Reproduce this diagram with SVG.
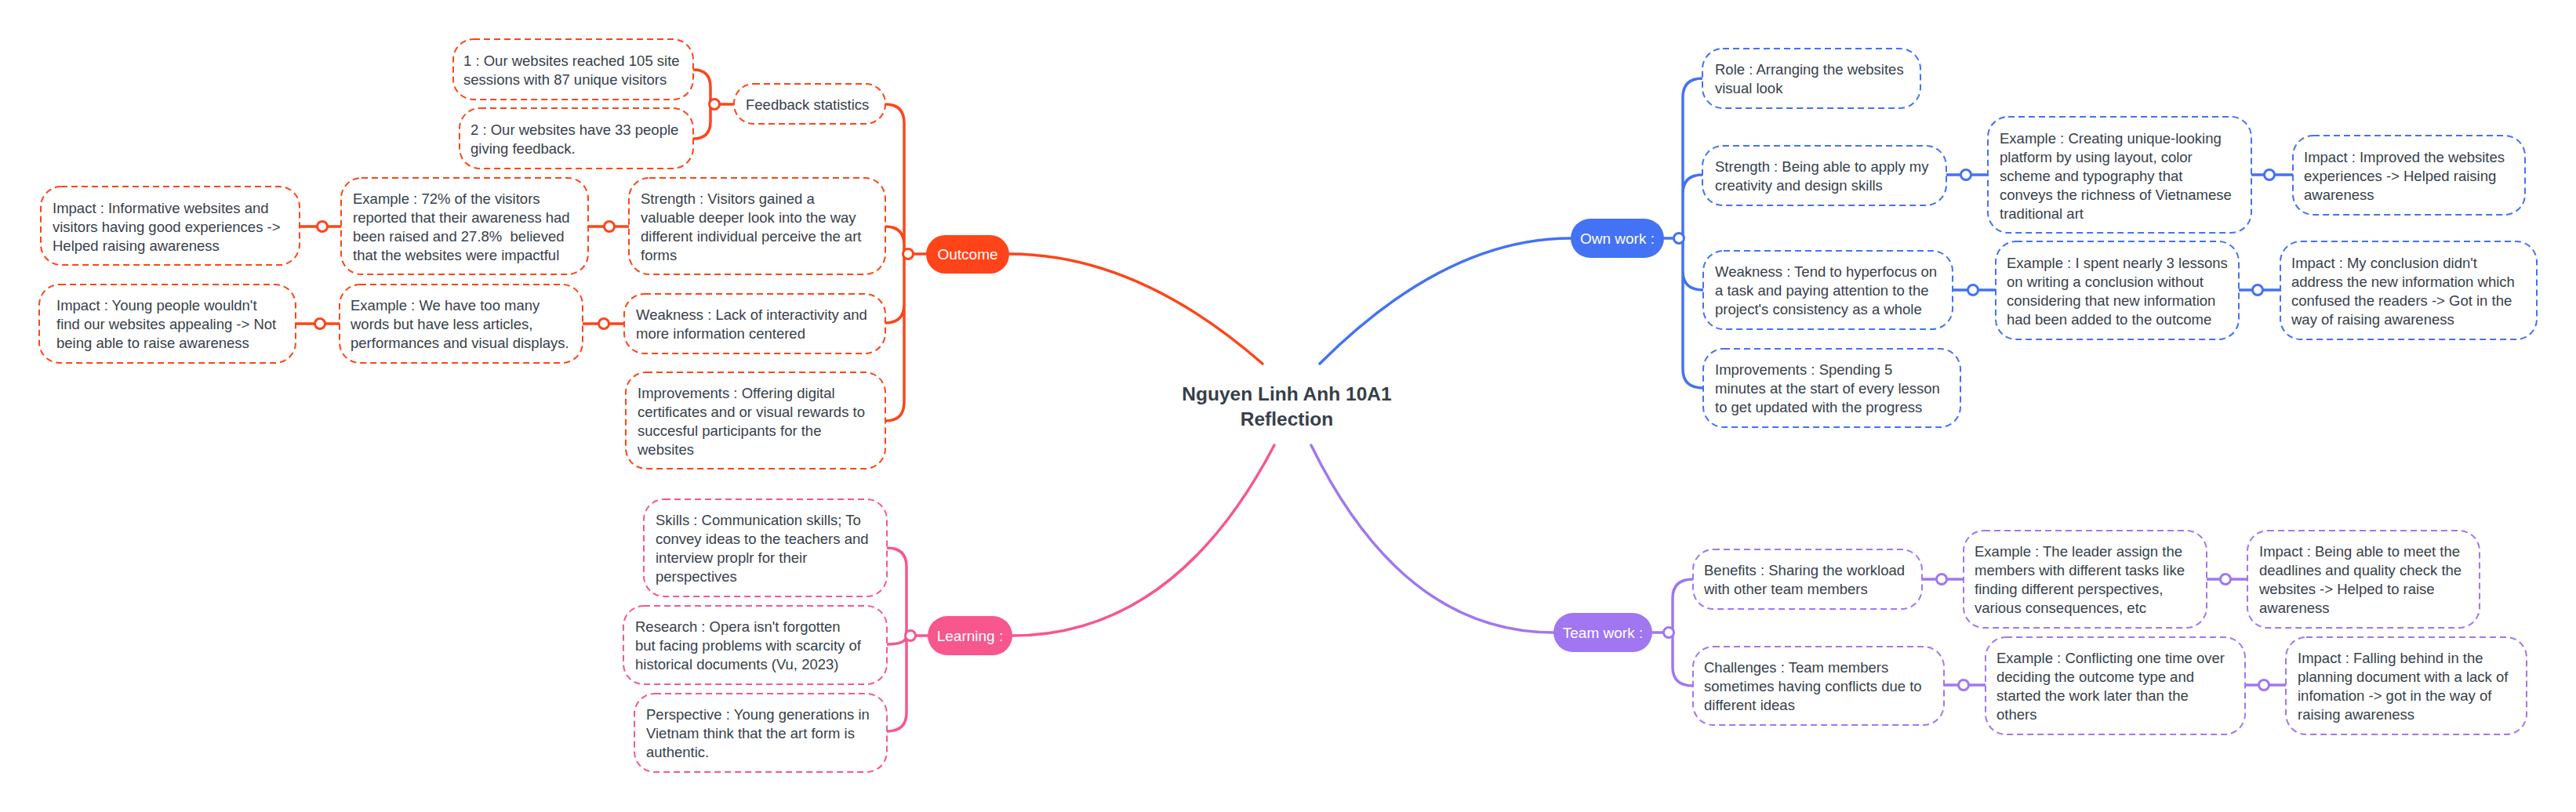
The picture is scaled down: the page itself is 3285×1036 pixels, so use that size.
<svg xmlns="http://www.w3.org/2000/svg" width="3285" height="1036" viewBox="0 0 3285 1036">
<style>
.t{font-family:"Liberation Sans",Arial,sans-serif;font-size:18.5px;fill:#373F4A}
.pt{font-family:"Liberation Sans",Arial,sans-serif;font-size:19px;fill:#FFFFFF;text-anchor:middle}
.root{font-family:"Liberation Sans",Arial,sans-serif;font-size:24.5px;font-weight:bold;fill:#373F4A;text-anchor:middle}
.box{fill:#FFFFFF;stroke-width:2;stroke-dasharray:8 5}
.r .box{stroke:#FF4419}.b .box{stroke:#4472F5}.p .box{stroke:#F7578C}.v .box{stroke:#A077F0}
.c{fill:none;stroke-width:3.5;stroke-linecap:round}
.j{fill:#FFFFFF;stroke-width:3}
.cr{stroke:#FF4419}.cb{stroke:#4472F5}.cp{stroke:#F7578C}.cv{stroke:#A077F0}
</style>
<rect width="3285" height="1036" fill="#FFFFFF"/>
<g id="connectors">
<path class="c cr" stroke-width="4" d="M1287,324 Q1450,324 1610,464"/>
<path class="c cp" stroke-width="4" d="M1291,811 Q1498,811 1625,568"/>
<path class="c cb" stroke-width="4" d="M1683,464 Q1843,304 2003,304"/>
<path class="c cv" stroke-width="4" d="M1672,568 Q1789,807 1981,807"/>
<path class="c cr" d="M1129,133 Q1153,133 1153,157 L1153,324 M1129,289 Q1153,289 1153,313 L1153,324 M1129,412 Q1153,412 1153,388 L1153,324 M1129,537 Q1153,537 1153,513 L1153,324 M1158,324 L1181,324"/>
<path class="c cr" d="M884,89 Q906,89 906,111 L906,133 M884,177 Q906,177 906,155 L906,133 M911,133 L936,133"/>
<path class="c cr" d="M382,289 L435,289 M750,289 L802,289 M377,413 L433,413 M743,413 L796,413"/>
<path class="c cp" d="M1131,699 Q1156,699 1156,723 L1156,811 M1131,822 Q1156,822 1156,811 M1131,933 Q1156,933 1156,909 L1156,811 M1161,811 L1183,811"/>
<path class="c cb" d="M2171,100 Q2146,100 2146,124 L2146,304 M2171,223 Q2146,223 2146,247 L2146,304 M2172,370 Q2146,370 2146,346 L2146,304 M2172,495 Q2146,495 2146,471 L2146,304 M2122,304 L2141,304"/>
<path class="c cb" d="M2482,223 L2535,223 M2871,223 L2924,223 M2490,370 L2545,370 M2855,370 L2908,370"/>
<path class="c cv" d="M2159,739 Q2133,739 2133,763 L2133,807 M2159,875 Q2133,875 2133,851 L2133,807 M2107,807 L2128,807"/>
<path class="c cv" d="M2451,739 L2504,739 M2814,739 L2866,739 M2479,874 L2532,874 M2863,874 L2915,874"/>
<g class="j cr"><circle cx="1158" cy="324" r="6.5"/><circle cx="911" cy="133" r="6.5"/><circle cx="411" cy="289" r="6.5"/><circle cx="777" cy="289" r="6.5"/><circle cx="408" cy="413" r="6.5"/><circle cx="770" cy="413" r="6.5"/></g>
<g class="j cp"><circle cx="1161" cy="811" r="6.5"/></g>
<g class="j cb"><circle cx="2141" cy="304" r="6.5"/><circle cx="2507" cy="223" r="6.5"/><circle cx="2894" cy="223" r="6.5"/><circle cx="2516" cy="370" r="6.5"/><circle cx="2879" cy="370" r="6.5"/></g>
<g class="j cv"><circle cx="2128" cy="807" r="6.5"/><circle cx="2476" cy="739" r="6.5"/><circle cx="2838" cy="739" r="6.5"/><circle cx="2504" cy="874" r="6.5"/><circle cx="2887" cy="874" r="6.5"/></g>
</g>
<g id="root"><text class="root"><tspan x="1641" y="511">Nguyen Linh Anh 10A1</tspan><tspan x="1641" y="543">Reflection</tspan></text></g>
<g id="outcome"><rect x="1181" y="300" width="106" height="49" rx="24.5" fill="#FF4419"/><text class="pt" x="1234" y="331">Outcome</text></g>
<g id="learning"><rect x="1183" y="786" width="108" height="50" rx="25" fill="#F7578C"/><text class="pt" x="1237" y="818">Learning :</text></g>
<g id="ownwork"><rect x="2003" y="279" width="119" height="50" rx="25" fill="#4472F5"/><text class="pt" x="2062.5" y="311">Own work :</text></g>
<g id="teamwork"><rect x="1981" y="782" width="126" height="50" rx="25" fill="#A077F0"/><text class="pt" x="2044" y="814">Team work :</text></g>
<g class="r">
<g id="fb1"><rect class="box" x="578" y="50" width="306" height="77" rx="26"/><text class="t"><tspan x="591" y="84">1 : Our websites reached 105 site</tspan><tspan x="591" y="108">sessions with 87 unique visitors</tspan></text></g>
<g id="fb2"><rect class="box" x="586" y="138" width="298" height="77" rx="26"/><text class="t"><tspan x="600" y="172">2 : Our websites have 33 people</tspan><tspan x="600" y="196">giving feedback.</tspan></text></g>
<g id="fbstat"><rect class="box" x="936" y="107" width="193" height="51" rx="25"/><text class="t" x="951" y="140">Feedback statistics</text></g>
<g id="imp1"><rect class="box" x="52" y="238" width="330" height="100" rx="26"/><text class="t"><tspan x="67" y="272">Impact : Informative websites and</tspan><tspan x="67" y="296">visitors having good experiences -&gt;</tspan><tspan x="67" y="320">Helped raising awareness</tspan></text></g>
<g id="ex1"><rect class="box" x="435" y="227" width="315" height="123" rx="26"/><text class="t"><tspan x="450" y="260">Example : 72% of the visitors</tspan><tspan x="450" y="284">reported that their awareness had</tspan><tspan x="450" y="308">been raised and 27.8%&#160; believed</tspan><tspan x="450" y="332">that the websites were impactful</tspan></text></g>
<g id="strength"><rect class="box" x="802" y="227" width="327" height="123" rx="26"/><text class="t"><tspan x="817" y="260">Strength : Visitors gained a</tspan><tspan x="817" y="284">valuable deeper look into the way</tspan><tspan x="817" y="308">different individual perceive the art</tspan><tspan x="817" y="332">forms</tspan></text></g>
<g id="imp2"><rect class="box" x="50" y="363" width="327" height="100" rx="26"/><text class="t"><tspan x="72" y="396">Impact : Young people wouldn't</tspan><tspan x="72" y="420">find our websites appealing -&gt; Not</tspan><tspan x="72" y="444">being able to raise awareness</tspan></text></g>
<g id="ex2"><rect class="box" x="433" y="363" width="310" height="100" rx="26"/><text class="t"><tspan x="447" y="396">Example : We have too many</tspan><tspan x="447" y="420">words but have less articles,</tspan><tspan x="447" y="444">performances and visual displays.</tspan></text></g>
<g id="weakness"><rect class="box" x="796" y="375" width="333" height="76" rx="26"/><text class="t"><tspan x="811" y="408">Weakness : Lack of interactivity and</tspan><tspan x="811" y="432">more information centered</tspan></text></g>
<g id="improvements"><rect class="box" x="798" y="475" width="331" height="123" rx="26"/><text class="t"><tspan x="813" y="508">Improvements : Offering digital</tspan><tspan x="813" y="532">certificates and or visual rewards to</tspan><tspan x="813" y="556">succesful participants for the</tspan><tspan x="813" y="580">websites</tspan></text></g>
</g>
<g class="p">
<g id="skills"><rect class="box" x="821" y="637" width="310" height="124" rx="26"/><text class="t"><tspan x="836" y="670">Skills : Communication skills; To</tspan><tspan x="836" y="694">convey ideas to the teachers and</tspan><tspan x="836" y="718">interview proplr for their</tspan><tspan x="836" y="742">perspectives</tspan></text></g>
<g id="research"><rect class="box" x="795" y="773" width="336" height="100" rx="26"/><text class="t"><tspan x="810" y="806">Research : Opera isn't forgotten</tspan><tspan x="810" y="830">but facing problems with scarcity of</tspan><tspan x="810" y="854">historical documents (Vu, 2023)</tspan></text></g>
<g id="perspective"><rect class="box" x="809" y="885" width="322" height="100" rx="26"/><text class="t"><tspan x="824" y="918">Perspective : Young generations in</tspan><tspan x="824" y="942">Vietnam think that the art form is</tspan><tspan x="824" y="966">authentic.</tspan></text></g>
</g>
<g class="b">
<g id="role"><rect class="box" x="2171" y="62" width="278" height="76" rx="26"/><text class="t"><tspan x="2187" y="95">Role : Arranging the websites</tspan><tspan x="2187" y="119">visual look</tspan></text></g>
<g id="ostrength"><rect class="box" x="2171" y="186" width="311" height="76" rx="26"/><text class="t"><tspan x="2187" y="219">Strength : Being able to apply my</tspan><tspan x="2187" y="243">creativity and design skills</tspan></text></g>
<g id="oex1"><rect class="box" x="2535" y="149" width="336" height="148" rx="26"/><text class="t"><tspan x="2550" y="183">Example : Creating unique-looking</tspan><tspan x="2550" y="207">platform by using layout, color</tspan><tspan x="2550" y="231">scheme and typography that</tspan><tspan x="2550" y="255">conveys the richness of Vietnamese</tspan><tspan x="2550" y="279">traditional art</tspan></text></g>
<g id="oimp1"><rect class="box" x="2924" y="173" width="296" height="101" rx="26"/><text class="t"><tspan x="2938" y="207">Impact : Improved the websites</tspan><tspan x="2938" y="231">experiences -&gt; Helped raising</tspan><tspan x="2938" y="255">awareness</tspan></text></g>
<g id="oweakness"><rect class="box" x="2172" y="320" width="318" height="100" rx="26"/><text class="t"><tspan x="2187" y="353">Weakness : Tend to hyperfocus on</tspan><tspan x="2187" y="377">a task and paying attention to the</tspan><tspan x="2187" y="401">project's consistency as a whole</tspan></text></g>
<g id="oex2"><rect class="box" x="2545" y="308" width="310" height="125" rx="26"/><text class="t"><tspan x="2559" y="342">Example : I spent nearly 3 lessons</tspan><tspan x="2559" y="366">on writing a conclusion without</tspan><tspan x="2559" y="390">considering that new information</tspan><tspan x="2559" y="414">had been added to the outcome</tspan></text></g>
<g id="oimp2"><rect class="box" x="2908" y="308" width="327" height="125" rx="26"/><text class="t"><tspan x="2922" y="342">Impact : My conclusion didn't</tspan><tspan x="2922" y="366">address the new information which</tspan><tspan x="2922" y="390">confused the readers -&gt; Got in the</tspan><tspan x="2922" y="414">way of raising awareness</tspan></text></g>
<g id="oimprovements"><rect class="box" x="2172" y="445" width="328" height="100" rx="26"/><text class="t"><tspan x="2187" y="478">Improvements : Spending 5</tspan><tspan x="2187" y="502">minutes at the start of every lesson</tspan><tspan x="2187" y="526">to get updated with the progress</tspan></text></g>
</g>
<g class="v">
<g id="benefits"><rect class="box" x="2159" y="701" width="292" height="76" rx="26"/><text class="t"><tspan x="2173" y="734">Benefits : Sharing the workload</tspan><tspan x="2173" y="758">with other team members</tspan></text></g>
<g id="bex"><rect class="box" x="2504" y="677" width="310" height="124" rx="26"/><text class="t"><tspan x="2518" y="710">Example : The leader assign the</tspan><tspan x="2518" y="734">members with different tasks like</tspan><tspan x="2518" y="758">finding different perspectives,</tspan><tspan x="2518" y="782">various consequences, etc</tspan></text></g>
<g id="bimp"><rect class="box" x="2866" y="677" width="296" height="124" rx="26"/><text class="t"><tspan x="2881" y="710">Impact : Being able to meet the</tspan><tspan x="2881" y="734">deadlines and quality check the</tspan><tspan x="2881" y="758">websites -&gt; Helped to raise</tspan><tspan x="2881" y="782">awareness</tspan></text></g>
<g id="challenges"><rect class="box" x="2159" y="825" width="320" height="100" rx="26"/><text class="t"><tspan x="2173" y="858">Challenges : Team members</tspan><tspan x="2173" y="882">sometimes having conflicts due to</tspan><tspan x="2173" y="906">different ideas</tspan></text></g>
<g id="cex"><rect class="box" x="2532" y="813" width="331" height="124" rx="26"/><text class="t"><tspan x="2546" y="846">Example : Conflicting one time over</tspan><tspan x="2546" y="870">deciding the outcome type and</tspan><tspan x="2546" y="894">started the work later than the</tspan><tspan x="2546" y="918">others</tspan></text></g>
<g id="cimp"><rect class="box" x="2915" y="813" width="307" height="124" rx="26"/><text class="t"><tspan x="2930" y="846">Impact : Falling behind in the</tspan><tspan x="2930" y="870">planning document with a lack of</tspan><tspan x="2930" y="894">infomation -&gt; got in the way of</tspan><tspan x="2930" y="918">raising awareness</tspan></text></g>
</g>
</svg>
